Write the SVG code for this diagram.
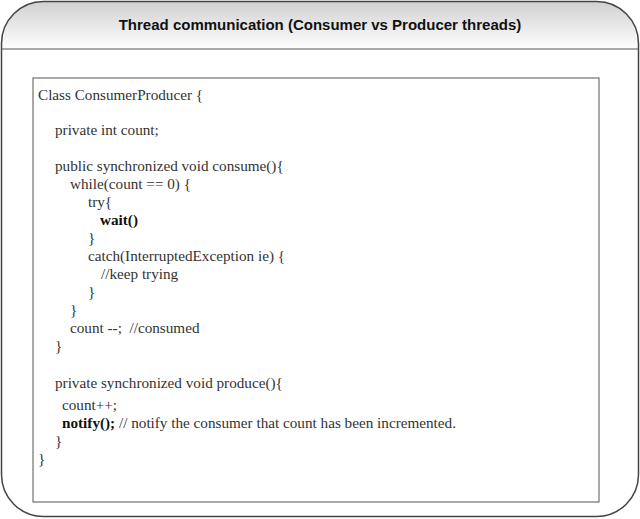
<svg xmlns="http://www.w3.org/2000/svg" width="640" height="519" viewBox="0 0 640 519">
<defs>
<linearGradient id="hg" x1="0" y1="0" x2="0" y2="1"><stop offset="0" stop-color="#d0d0d0"/><stop offset="1" stop-color="#ffffff"/></linearGradient>
<clipPath id="oc"><rect x="1.5" y="1.5" width="637" height="515" rx="42" ry="42"/></clipPath>
</defs>
<style>
.c{font-family:"Liberation Serif",serif;font-size:15.2px;fill:#333;white-space:pre}
.b{font-weight:bold;fill:#111}
</style>
<rect width="640" height="519" fill="#fff"/>
<g id="frame">
<rect x="1.5" y="1.5" width="637" height="48" fill="url(#hg)" clip-path="url(#oc)"/>
<line x1="1.5" y1="49" x2="638.5" y2="49" stroke="#555" stroke-width="1"/>
<rect x="1.5" y="1.5" width="637" height="515" rx="42" ry="42" fill="none" stroke="#444" stroke-width="1.5"/>
<text x="320" y="30" text-anchor="middle" font-family="Liberation Sans,sans-serif" font-size="15" font-weight="bold" fill="#111">Thread communication (Consumer vs Producer threads)</text>
</g>
<g id="code">
<rect x="33" y="78" width="566" height="424" fill="#fff" stroke="#555" stroke-width="1"/>
<text class="c" x="38" y="100">Class ConsumerProducer {</text>
<text class="c" x="55" y="135">private int count;</text>
<text class="c" x="55" y="171">public synchronized void consume(){</text>
<text class="c" x="70" y="189">while(count == 0) {</text>
<text class="c" x="88" y="207">try{</text>
<text class="c b" x="100" y="225">wait()</text>
<text class="c" x="88" y="243">}</text>
<text class="c" x="88" y="261">catch(InterruptedException ie) {</text>
<text class="c" x="101" y="279">//keep trying</text>
<text class="c" x="88" y="297">}</text>
<text class="c" x="70" y="315">}</text>
<text class="c" x="70" y="333">count --;  //consumed</text>
<text class="c" x="55" y="351">}</text>
<text class="c" x="55" y="388">private synchronized void produce(){</text>
<text class="c" x="62" y="410">count++;</text>
<text class="c" x="62" y="428"><tspan class="b">notify();</tspan> // notify the consumer that count has been incremented.</text>
<text class="c" x="55" y="446">}</text>
<text class="c" x="38" y="464">}</text>
</g>
</svg>
